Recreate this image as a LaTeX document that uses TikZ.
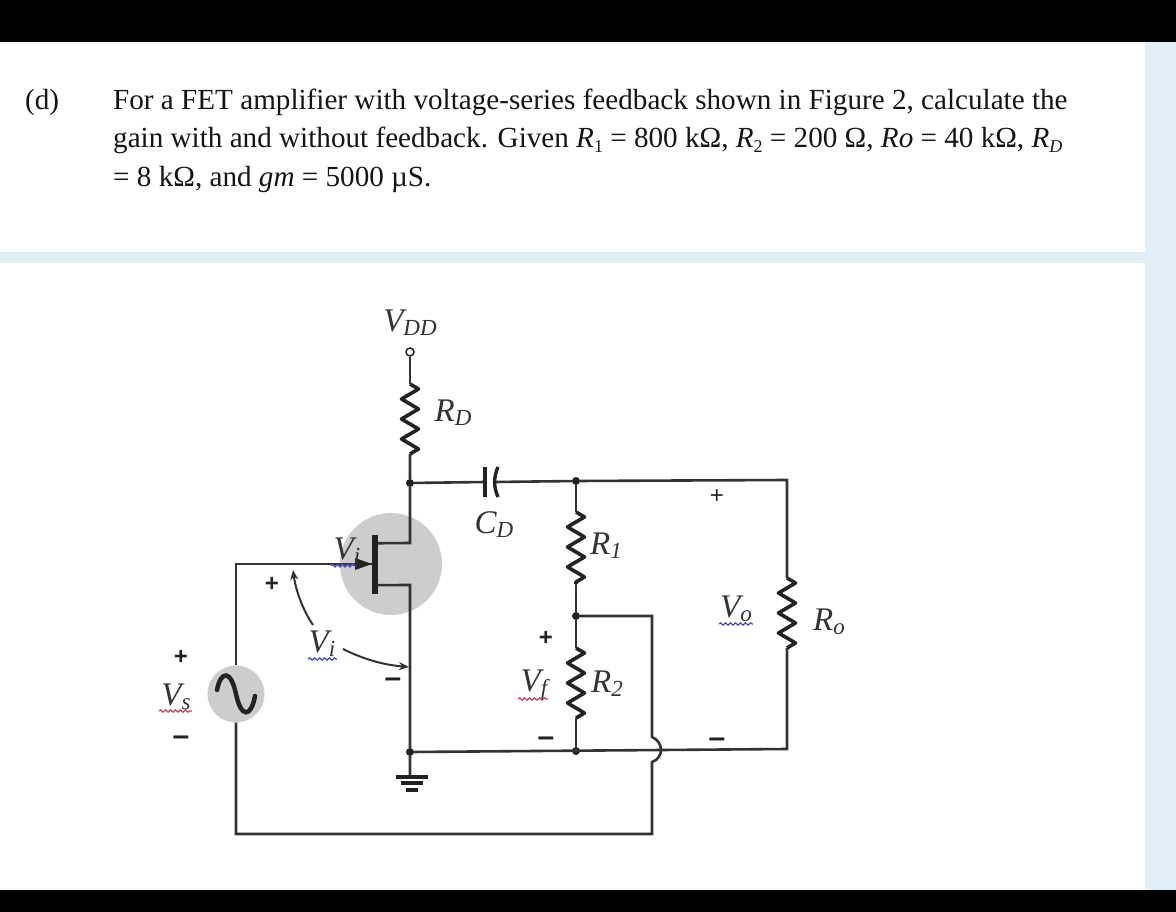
\documentclass[tikz,border=0pt]{standalone}
\usepackage{fontspec}
\setmainfont{Liberation Serif}
\newfontfamily\signfont{Liberation Sans}
\usetikzlibrary{arrows.meta,decorations.pathmorphing,calc}
\definecolor{ink}{HTML}{222222}
\definecolor{wire}{HTML}{333333}
\definecolor{pale}{HTML}{E1F0F7}
\definecolor{disc}{HTML}{CDCDCD}
\definecolor{wavyblue}{HTML}{4A4AB0}
\definecolor{wavyred}{HTML}{C04060}
\newcommand\lowtxt[1]{\raisebox{-4pt}{\fontsize{23}{23}\selectfont #1}}
\newcommand\psub[1]{\raisebox{-5pt}{\fontsize{18}{18}\selectfont #1}}
\tikzset{
  wireline/.style={draw=wire,line width=2.6pt},
  res/.style={draw=ink,line width=3.6pt,line join=round,decorate,decoration={zigzag,segment length=20pt,amplitude=8.5pt}},
  para/.style={anchor=base west,inner sep=0pt,text=black!92,font=\fontsize{29.15}{30}\selectfont},
  lab/.style={anchor=base,inner sep=0pt,text=wire,font=\fontsize{33}{33}\selectfont\itshape},
  sign/.style={inner sep=0pt,text=ink,font=\signfont\fontsize{24}{24}\selectfont\bfseries},
  minus/.style={inner sep=0pt,text=ink,yshift=-4.5pt,font=\signfont\fontsize{30}{30}\selectfont\bfseries},
  jdot/.style={circle,fill=ink,inner sep=0pt,minimum size=8pt},
  wavy/.style={line width=1.2pt,decorate,decoration={snake,segment length=5pt,amplitude=1.2pt}},
  curvearrow/.style={draw=wire,line width=2pt,-{Stealth[length=10pt,width=8pt]}},
}
\begin{document}
\begin{tikzpicture}[x=1pt,y=-1pt]
\useasboundingbox (0,0) rectangle (1176,912);
% page background
\fill[white] (0,0) rectangle (1176,912);
\fill[pale] (1145,42) rectangle (1176,890);
\fill[pale] (0,252) rectangle (1145,263);
\fill[black] (0,0) rectangle (1176,42);
\fill[black] (0,890) rectangle (1176,912);
% question text
\node[para] (tag) at (25,110) {(d)};
\node[para] (l1) at (113,110) {For a FET amplifier with voltage-series feedback shown in Figure 2, calculate the};
\node[para] (l2) at (113,148) {gain with and without feedback. Given \textit{R}\psub{1} = 800 kΩ, \textit{R}\psub{2} = 200 Ω, \textit{Ro} = 40 kΩ, \textit{R}\psub{\textit{D}}};
\node[para] (l3) at (113,187) {= 8 kΩ, and \textit{gm} = 5000 µS.};
% discs
\node[circle,fill=disc,minimum size=102pt,inner sep=0pt] (fetdisc) at (391,564) {};
\node[circle,fill=disc,minimum size=57pt,inner sep=0pt] (src) at (236,694) {};
% coordinates
\node[circle,draw=ink,fill=white,line width=1.5pt,minimum size=8pt,inner sep=0pt] (vdd) at (410,352) {};
\coordinate (rdT) at (410,384);
\coordinate (rdB) at (410,454);
\node[jdot] (jD) at (410,483) {};
\coordinate (capL) at (485,482);
\coordinate (capR) at (495,482);
\node[jdot] (jT) at (576,481) {};
\coordinate (tr) at (787,480);
\coordinate (roT) at (787,578);
\coordinate (roB) at (787,648);
\coordinate (br) at (787,749);
\coordinate (r1T) at (576,512);
\coordinate (r1B) at (576,584);
\node[jdot] (jM) at (576,616) {};
\coordinate (r2T) at (576,648);
\coordinate (r2B) at (576,718);
\node[jdot] (jB) at (576,751) {};
\node[jdot] (jG) at (410,752) {};
\coordinate (gnd) at (410,776);
\coordinate (fbTop) at (652,616);
\coordinate (hopA) at (652,737);
\coordinate (hopB) at (652,762);
\coordinate (fbBot) at (652,834);
\coordinate (blc) at (236,834);
\coordinate (tlc) at (236,564);
\coordinate (gate) at (372,564);
\coordinate (chT) at (375,535);
\coordinate (chB) at (375,594);
\coordinate (dr) at (410,543);
\coordinate (so) at (410,585);
\coordinate (viA) at (313,625);
\coordinate (viAe) at (293,570);
\coordinate (viB) at (343,649);
\coordinate (viBe) at (409,667);
% resistors
\draw[res] (rdT) -- (rdB);
\draw[res] (r1T) -- (r1B);
\draw[res] (r2T) -- (r2B);
\draw[res] (roT) -- (roB);
% wiring
\draw[wireline] (vdd) -- (rdT);
\draw[wireline] (rdB) -- (jD) -- (dr) -- ($(chT)!0.14!(chB)$);
\draw[wireline] ($(chT)!0.85!(chB)$) -- (so) -- (jG) -- (gnd);
\draw[wireline] (jD) -- (capL);
\draw[wireline] (capR) -- (jT) -- (tr) -- (roT);
\draw[wireline] (roB) -- (br) -- (jG);
\draw[wireline] (jT) -- (r1T);
\draw[wireline] (r1B) -- (jM) -- (r2T);
\draw[wireline] (r2B) -- (jB);
\draw[wireline] (jM) -- (fbTop) -- (hopA) .. controls (664,742) and (664,758) .. (hopB) -- (fbBot) -- (blc) -- (src);
\draw[wireline] (src) -- (tlc) -- (gate);
% FET
\draw[ink,line width=6pt] (chT) -- (chB);
\fill[ink] (gate) -- ++(-17,-6) -- ++(0,12) -- cycle;
% capacitor
\draw[ink,line width=3.4pt] (485,467) -- (485,497);
\draw[ink,line width=3.4pt] (498,467) .. controls (493.5,477) and (493.5,487) .. (498,497);
% source sine
\draw[ink,line width=4.5pt,line cap=round] (217,690) .. controls (221,670) and (231,670) .. (236,694) .. controls (241,718) and (251,718) .. (255,696);
% ground
\draw[ink,line width=3.6pt] (396,777) -- (428,777);
\draw[ink,line width=4pt] (401,783) -- (423,783);
\draw[ink,line width=4pt] (406,790) -- (418,790);
% labels
\node[lab] (tvdd) at (410,331) {V\lowtxt{DD}};
\node[lab] (trd) at (453,421) {R\lowtxt{D}};
\node[lab] (tcd) at (494,533) {C\lowtxt{D}};
\node[lab] (tr1) at (606,554) {R\lowtxt{\itshape 1}};
\node[lab] (tr2) at (607,692) {R\lowtxt{2}};
\node[lab] (tro) at (829,630) {R\lowtxt{o}};
\node[lab] (tvo) at (736,617) {V\lowtxt{o}};
\node[lab] (tvf) at (534,691) {V\lowtxt{f}};
\node[lab] (tvg) at (347,559) {V\lowtxt{i}};
\node[lab] (tvi) at (322,652) {V\lowtxt{i}};
\node[lab] (tvs) at (176,705) {V\lowtxt{s}};
% wavy marks
\draw[wavyblue,wavy] (719,624) -- (753,624);
\draw[wavyred,wavy] (518,699) -- (548,699);
\draw[wavyblue,wavy,line width=1.6pt] (331,565.5) -- (356,565.5);
\draw[wavyblue,wavy] (308,659) -- (337,659);
\draw[wavyred,wavy] (159,711) -- (192,711);
% signs
\node[sign] (p1) at (272,584) {+};
\node[minus] (m1) at (393,678) {–};
\node[sign] (p2) at (181,657) {+};
\node[minus] (m2) at (181,736) {–};
\node[sign] (p3) at (546,638) {+};
\node[minus] (m3) at (546,737) {–};
\node[sign,font=\signfont\fontsize{24}{24}\selectfont] (p4) at (717,497) {+};
\node[minus] (m4) at (717,738) {–};
% Vi arrows
\draw[curvearrow] (viA) .. controls (304,612) and (296,592) .. (viAe);
\draw[curvearrow] (viB) .. controls (365,660) and (385,665) .. (viBe);
\end{tikzpicture}
\end{document}
